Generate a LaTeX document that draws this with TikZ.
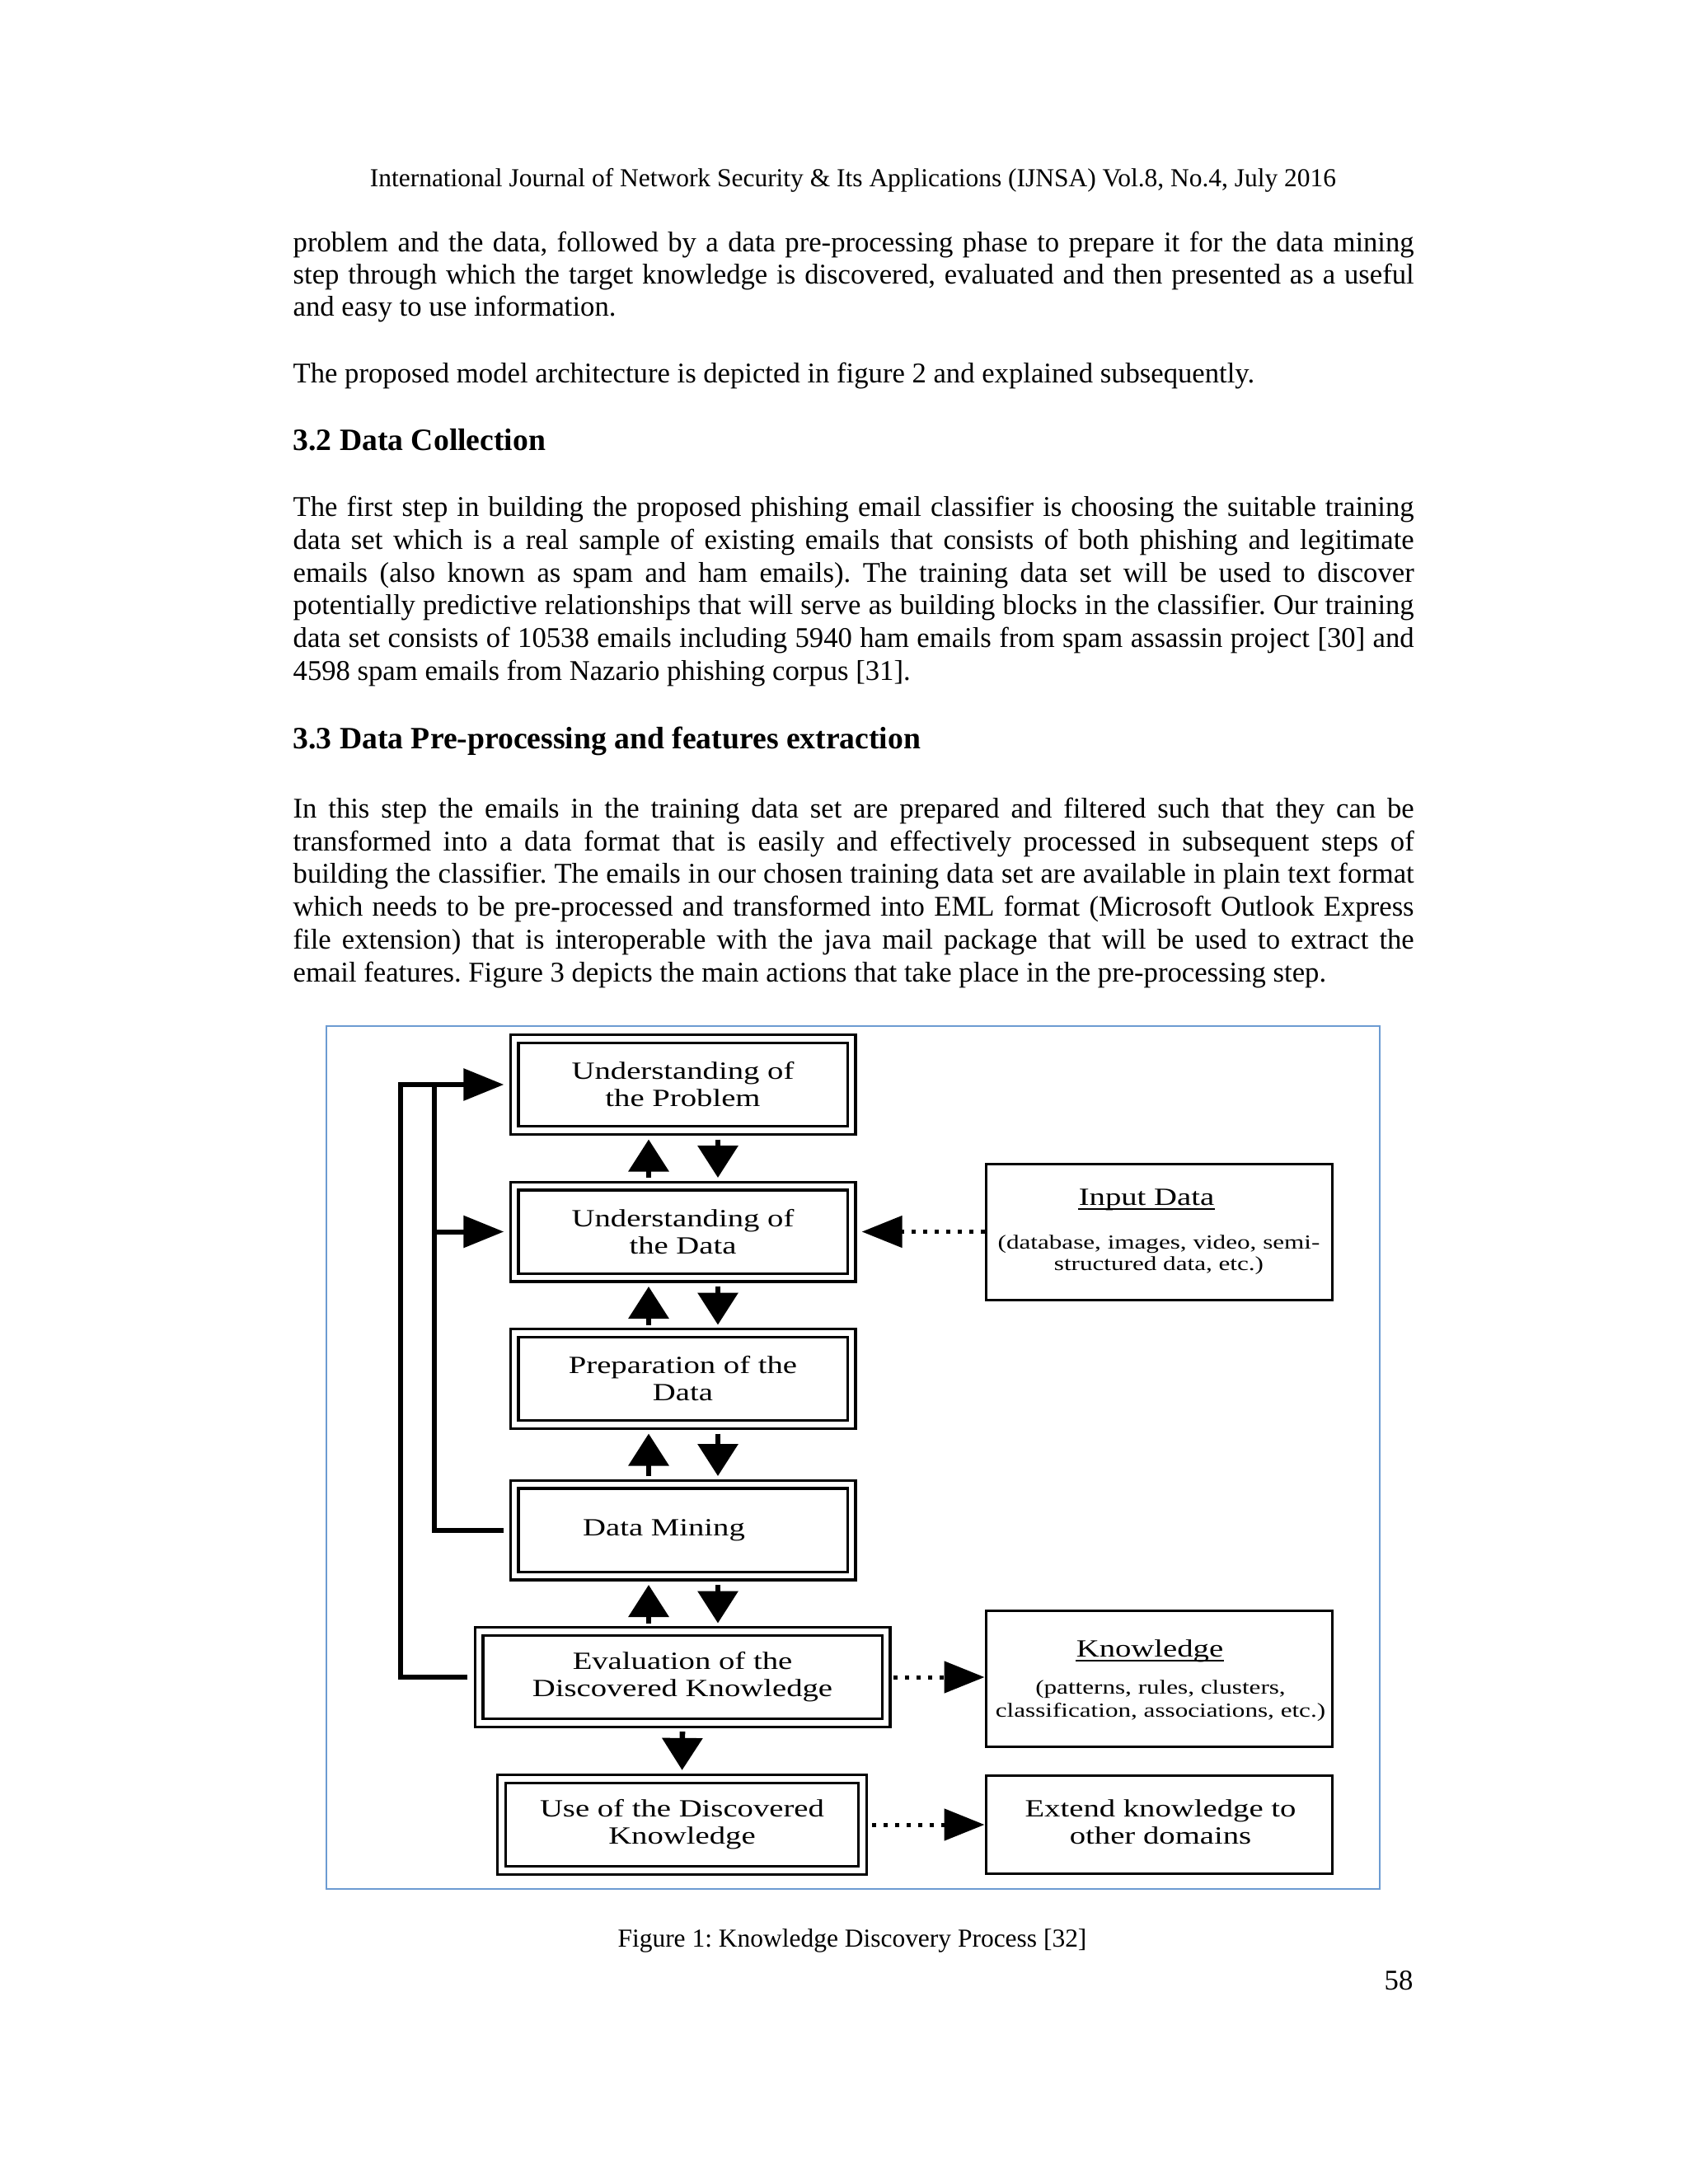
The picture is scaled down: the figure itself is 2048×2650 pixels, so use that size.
\documentclass[tikz,border=0pt]{standalone}
\usepackage{fontspec}
\setmainfont{Liberation Serif}
\newfontfamily\figfont[FakeStretch=1.29]{Liberation Serif}
\usetikzlibrary{arrows.meta}
\definecolor{framec}{RGB}{108,155,210}
\frenchspacing
\tikzset{
  bodyline/.style={anchor=base west, inner sep=0pt, font=\fontsize{10.4}{12}\selectfont},
  headline/.style={anchor=base west, inner sep=0pt, font=\fontsize{11.3}{13}\selectfont\bfseries},
  dbox/.style={draw, double, line width=1pt, double distance=1.9pt, inner sep=0pt,
    align=center, font=\figfont\fontsize{9}{9.9}\selectfont, minimum height=111*0.3pt},
  sbox/.style={draw, line width=0.9pt, inner sep=0pt, minimum width=420*0.3pt},
  figtxt/.style={anchor=base, inner sep=0pt, font=\figfont\fontsize{9}{9.9}\selectfont},
  figsmall/.style={anchor=base, inner sep=0pt, font=\figfont\fontsize{7.24}{8.1}\selectfont},
  vhead/.style={-{Triangle[width=14.4pt,length=11.7pt]}},
  hhead/.style={-{Triangle[width=11.4pt,length=14.7pt]}},
  stemline/.style={line width=2pt},
  fbline/.style={line width=1.8pt, line join=miter},
  dotline/.style={line width=1.5pt, dash pattern=on 1.5pt off 2.7pt},
}
\newcommand{\jline}[1]{\makebox[408pt][s]{#1}}
\begin{document}
\begin{tikzpicture}[x=0.3pt,y=-0.3pt]
\useasboundingbox (0,0) rectangle (2048,2650);
\fill[white] (0,0) rectangle (2048,2650);

% header
\node[anchor=base, inner sep=0pt, font=\fontsize{9.44}{11}\selectfont] (hdr) at (1035,226)
  {International Journal of Network Security \& Its Applications (IJNSA) Vol.8, No.4, July 2016};

% paragraph 1
\node[bodyline] (p1a) at (355,305) {\jline{problem and the data, followed by a data pre-processing phase to prepare it for the data mining}};
\node[bodyline] (p1b) at (355,344) {\jline{step through which the target knowledge is discovered, evaluated and then presented as a useful}};
\node[bodyline] (p1c) at (355,383) {and easy to use information.};
\node[bodyline] (p1d) at (355,464) {The proposed model architecture is depicted in figure 2 and explained subsequently.};

\node[headline] (h32) at (355,546) {3.2 Data Collection};

\node[bodyline] (p2a) at (355,626) {\jline{The first step in building the proposed phishing email classifier is choosing the suitable training}};
\node[bodyline] (p2b) at (355,666) {\jline{data set which is a real sample of existing emails that consists of both phishing and legitimate}};
\node[bodyline] (p2c) at (355,706) {\jline{emails (also known as spam and ham emails). The training data set will be used to discover}};
\node[bodyline] (p2d) at (355,745) {\jline{potentially predictive relationships that will serve as building blocks in the classifier. Our training}};
\node[bodyline] (p2e) at (355,785) {\jline{data set consists of 10538 emails including 5940 ham emails from spam assassin project [30] and}};
\node[bodyline] (p2f) at (355,825) {4598 spam emails from Nazario phishing corpus [31].};

\node[headline] (h33) at (355,908) {3.3 Data Pre-processing and features extraction};

\node[bodyline] (p3a) at (355,992) {\jline{In this step the emails in the training data set are prepared and filtered such that they can be}};
\node[bodyline] (p3b) at (355,1032) {\jline{transformed into a data format that is easily and effectively processed in subsequent steps of}};
\node[bodyline] (p3c) at (355,1071) {\jline{building the classifier. The emails in our chosen training data set are available in plain text format}};
\node[bodyline] (p3d) at (355,1111) {\jline{which needs to be pre-processed and transformed into EML format (Microsoft Outlook Express}};
\node[bodyline] (p3e) at (355,1151) {\jline{file extension) that is interoperable with the java mail package that will be used to extract the}};
\node[bodyline] (p3f) at (355,1191) {email features. Figure 3 depicts the main actions that take place in the pre-processing step.};

% figure frame
\draw[framec, line width=0.7pt] (396,1245) rectangle (1674,2292);

% main boxes
\node[dbox, minimum width=409*0.3pt] (b1) at (828.5,1316) {Understanding of\\the Problem};
\node[dbox, minimum width=409*0.3pt] (b2) at (828.5,1494.5) {Understanding of\\the Data};
\node[dbox, minimum width=409*0.3pt] (b3) at (828.5,1673) {Preparation of the\\Data};
\node[dbox, minimum width=409*0.3pt] (b4) at (828.5,1856.5) {Data Mining\hspace*{13.8pt}};
\node[dbox, minimum width=494*0.3pt] (b5) at (828,2035) {Evaluation of the\\Discovered Knowledge};
\node[dbox, minimum width=438*0.3pt] (b6) at (827.5,2214) {Use of the Discovered\\Knowledge};

% side boxes
\node[sbox, minimum height=165*0.3pt] (inp) at (1406,1494.5) {};
\node[figtxt] (inpt) at (1391,1462) {Input Data};
\draw[line width=0.8pt] ([yshift=-1.5pt]inpt.base west) -- ([yshift=-1.5pt]inpt.base east);
\node[figsmall] (inp1) at (1406,1515) {(database, images, video, semi-};
\node[figsmall] (inp2) at (1406,1541) {structured data, etc.)};

\node[sbox, minimum height=165*0.3pt] (kn) at (1406,2036.5) {};
\node[figtxt] (knt) at (1395,2010) {Knowledge};
\draw[line width=0.8pt] ([yshift=-1.5pt]knt.base west) -- ([yshift=-1.5pt]knt.base east);
\node[figsmall] (kn1) at (1408,2055) {(patterns, rules, clusters,};
\node[figsmall] (kn2) at (1408,2083) {classification, associations, etc.)};

\node[sbox, minimum height=119*0.3pt] (ext) at (1406,2213.5) {};
\node[figtxt] (ext1) at (1408,2204) {Extend knowledge to};
\node[figtxt] (ext2) at (1408,2237) {other domains};

% coordinates for columns
\coordinate (ux) at (787,0);
\coordinate (dx) at (871,0);
\coordinate (ox) at (486,0);
\coordinate (ix) at (527,0);

% vertical arrow pairs
\foreach \a/\b in {b1/b2,b2/b3,b3/b4,b4/b5}{
  \draw[stemline, vhead, shorten <=2.5pt, shorten >=2.8pt] (\b.north -| ux) -- (\a.south -| ux);
  \draw[stemline, vhead, shorten <=2.8pt, shorten >=2.5pt] (\a.south -| dx) -- (\b.north -| dx);
}
\draw[stemline, vhead, shorten <=2.7pt, shorten >=2.7pt] (b5.south) -- (b6.north);

% feedback lines
\draw[fbline, hhead, shorten <=3.6pt, shorten >=3.3pt] (b5.west) -- (b5.west -| ox) |- (b1.west);
\draw[fbline, shorten <=3.3pt] (b4.west) -- (b4.west -| ix) -- (b1.west -| ix);
\draw[fbline, hhead, shorten >=3.3pt] (b2.west -| ix) -- (b2.west);

% dotted connectors
\draw[dotline, hhead, shorten >=3.3pt] (inp.west) -- (inp.west -| b2.east);
\draw[dotline, hhead, shorten <=2.1pt] (b5.east) -- (b5.east -| kn.west);
\draw[dotline, hhead, shorten <=3pt] (b6.east) -- (b6.east -| ext.west);

% caption and page number
\node[anchor=base, inner sep=0pt, font=\fontsize{9.44}{11}\selectfont] (cap) at (1034,2362)
  {Figure 1: Knowledge Discovery Process [32]};
\node[anchor=base east, inner sep=0pt, font=\fontsize{10.4}{12}\selectfont] (pg) at (1715,2414) {58};
\end{tikzpicture}
\end{document}
